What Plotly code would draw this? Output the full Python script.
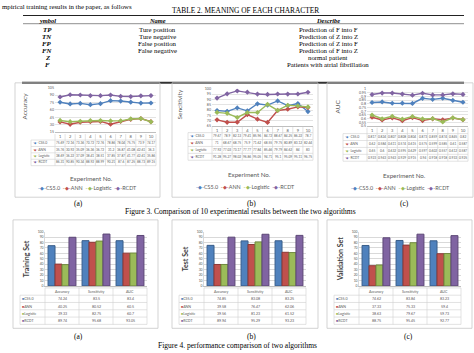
import plotly.graph_objects as go

# ---------------- data ----------------
experiments = list(range(1, 11))
models = ["CS5.0", "ANN", "Logistic", "RCDT"]

acc_cs50 = [75.69, 72.16, 73.36, 70.72, 72.76, 78.86, 78.04, 75.75, 73.9, 74.17]
acc_ann = [35.76, 30.92, 35.09, 36.36, 36.72, 31.2, 36.87, 41.08, 42.61, 36.3]
acc_log = [38.69, 36.22, 37.09, 38.41, 38.51, 37.85, 37.87, 41.77, 42.61, 35.86]
acc_rcdt = [86.31, 90.85, 90.34, 88.92, 88.99, 90.21, 87.6, 87.25, 88.73, 89.15]

sen_cs50 = [79.67, 78.9, 82.13, 79.41, 85.96, 84.72, 88.67, 84.25, 86.22, 78.7]
sen_ann = [71, 68.67, 68.75, 75.9, 71.62, 68.55, 79.75, 80.89, 83.12, 82.44]
sen_log = [77.92, 77.03, 73.17, 77.77, 77.84, 85.46, 79.79, 84.62, 84, 83]
sen_rcdt = [91.28, 95.27, 98.02, 96.86, 95.05, 94.71, 95.1, 95.09, 95.11, 96.75]

auc_cs50 = [0.817, 0.824, 0.807, 0.808, 0.804, 0.873, 0.859, 0.874, 0.845, 0.82]
auc_ann = [0.62, 0.584, 0.611, 0.574, 0.615, 0.575, 0.599, 0.585, 0.61, 0.587]
auc_log = [0.65, 0.6, 0.632, 0.595, 0.629, 0.597, 0.602, 0.557, 0.612, 0.587]
auc_rcdt = [0.923, 0.943, 0.943, 0.929, 0.915, 0.94, 0.918, 0.918, 0.933, 0.925]

metrics = ["Accuracy", "Sensitivity", "AUC"]
train_cs50 = [74.24, 83.50, 83.4]
train_ann = [40.25, 80.52, 60.5]
train_log = [39.33, 82.75, 60.7]
train_rcdt = [89.74, 95.68, 93.05]
test_cs50 = [74.85, 83.08, 83.25]
test_ann = [39.58, 76.47, 62.06]
test_log = [39.56, 81.23, 61.52]
test_rcdt = [89.94, 95.29, 93.23]
valid_cs50 = [74.62, 83.84, 83.23]
valid_ann = [37.33, 75.33, 59.4]
valid_log = [38.63, 79.67, 59.73]
valid_rcdt = [88.75, 95.45, 92.77]

t2_symbols = ["TP", "TN", "FP", "FN", "Z", "F"]
t2_names = ["Ture position", "Ture negative", "False position", "False negative", "", ""]
t2_desc = ["Prediction of F into F", "Prediction of Z into Z", "Prediction of Z into F",
           "Prediction of F into Z", "normal patient", "Patients with atrial fibrillation"]

# ---------------- helpers ----------------
W, H = 474, 353
def fx(x): return x / W
def fy(y): return 1 - y / H

COL = dict(zip(models, ["#4F81BD", "#C0504D", "#9BBB59", "#8064A2"]))
EDGE = dict(zip(models, ["#385D8A", "#8C3836", "#71893F", "#5C4776"]))
SERIF = "Liberation Serif"
SANS = "Lato"
GRAY = "#595959"

annotations, shapes = [], []

def text(x, y, s, size=6, color="#000", font=SERIF, xanchor="center", angle=0, xref="paper"):
    annotations.append(dict(x=fx(x) if xref == "paper" else x, y=fy(y), xref=xref, yref="paper",
                            text=s, showarrow=False, textangle=angle, borderpad=0,
                            font=dict(family=font, size=size, color=color),
                            xanchor=xanchor, yanchor="middle"))

def hline(x0, x1, y, color="#d0d0d0", width=0.6):
    shapes.append(dict(type="line", xref="paper", yref="paper", x0=fx(x0), x1=fx(x1),
                       y0=fy(y), y1=fy(y), line=dict(color=color, width=width)))

def vline(x, y0, y1, color="#d0d0d0", width=0.6, xref="paper"):
    shapes.append(dict(type="line", xref=xref, yref="paper", x0=fx(x) if xref == "paper" else x,
                       x1=fx(x) if xref == "paper" else x, y0=fy(y0), y1=fy(y1),
                       line=dict(color=color, width=width)))

def rect(x0, y0, x1, y1, color="#c8c8c8", width=0.8):
    shapes.append(dict(type="rect", xref="paper", yref="paper", x0=fx(x0), x1=fx(x1),
                       y0=fy(y1), y1=fy(y0), line=dict(color=color, width=width)))

fig = go.Figure()
layout = dict(width=W, height=H, margin=dict(l=0, r=0, t=0, b=0), paper_bgcolor="white",
              plot_bgcolor="rgba(0,0,0,0)", showlegend=False, barmode="group",
              bargap=0.18, bargroupgap=0.0)

def axnames(n):
    return ("xaxis" if n == 1 else f"xaxis{n}", "yaxis" if n == 1 else f"yaxis{n}",
            "x" if n == 1 else f"x{n}", "y" if n == 1 else f"y{n}")

# ---------------- top text + table 2 ----------------
text(1, 3.2, "mpirical training results in the paper, as follows", size=6.8, xanchor="left")
text(245, 7.2, "TABLE 2. MEANING OF EACH CHARACTER", size=7.4)
hline(23, 464, 12.7, color="#222", width=1.2)
hline(23, 464, 21, color="#444", width=0.6)
text(47, 17.3, "<b><i>ymbol</i></b>", size=6.4)
text(157, 17.3, "<b><i>Name</i></b>", size=6.4)
text(328, 17.3, "<b><i>Describe</i></b>", size=6.4)
for i, (s, nm, d) in enumerate(zip(t2_symbols, t2_names, t2_desc)):
    yy = 27.3 + i * 7.07
    text(47, yy, f"<b><i>{s}</i></b>", size=6.8)
    if nm:
        text(157, yy, nm, size=6.8)
    text(328, yy, d, size=6.8)
hline(22, 464, 81, color="#333", width=2)

# ---------------- Figure 3: line charts ----------------
line_panels = [
    dict(box=(15, 160), ylab="Accuracy", ylx=25, yly=105,
         series=[acc_cs50, acc_ann, acc_log, acc_rcdt], yr=[15, 105], dt=15,
         ytop=86, ybot=131, ttop=139, rh=6.5, yexp=178, yleg=188, lab="(a)", labx=78),
    dict(box=(172, 318), ylab="Sencitivity", ylx=180, yly=103,
         series=[sen_cs50, sen_ann, sen_log, sen_rcdt], yr=[65, 100], dt=5,
         ytop=87, ybot=125, ttop=131.5, rh=7, yexp=174, yleg=187, lab="(b)", labx=252),
    dict(box=(327, 473), ylab="AUC", ylx=338, yly=105,
         series=[auc_cs50, auc_ann, auc_log, auc_rcdt], yr=[0.5, 1.0], dt=0.05,
         ytop=87, ybot=125, ttop=132.5, rh=7, yexp=175, yleg=188, lab="(c)", labx=404),
]

n = 0
for p in line_panels:
    n += 1
    xa, ya, xr, yr_ = axnames(n)
    bx0, bx1 = p["box"]
    rect(bx0, 81, bx1, 197)
    px0, px1 = bx0 + 40, bx0 + 141
    layout[xa] = dict(domain=[fx(px0), fx(px1)], range=[0.5, 10.5], anchor=yr_, tickvals=experiments,
                      tickfont=dict(size=4, color=GRAY, family=SANS), showgrid=False, showline=True,
                      linecolor="#bfbfbf", linewidth=0.7, ticks="", zeroline=False, fixedrange=True)
    layout[ya] = dict(domain=[fy(p["ybot"]), fy(p["ytop"])], range=p["yr"], dtick=p["dt"], tick0=p["yr"][0],
                      anchor=xr, tickfont=dict(size=3.6, color=GRAY, family=SANS), showgrid=True,
                      gridcolor="#e4e4e4", gridwidth=0.5, zeroline=False, showline=False, ticks="",
                      fixedrange=True)
    for m, vals in zip(models, p["series"]):
        fig.add_trace(go.Scatter(x=experiments, y=vals, mode="lines+markers", xaxis=xr, yaxis=yr_,
                                 line=dict(color=COL[m], width=1.4),
                                 marker=dict(symbol="diamond", size=4, color=COL[m])))
    # data table
    t0, rh = p["ttop"], p["rh"]
    step = (px1 - px0) / 10
    for k in range(5):
        hline(bx0 + 16, px1, t0 + k * rh)
    vline(bx0 + 16, t0, t0 + 4 * rh)
    for k in range(11):
        vline(px0 + k * step, t0 - 6, t0 + 4 * rh)
    for r, (m, vals) in enumerate(zip(models, p["series"])):
        yy = t0 + (r + 0.5) * rh
        text(bx0 + 17, yy, f"<span style='color:{COL[m]}'>-◆-</span> {m}", size=3.4,
             color=GRAY, font=SANS, xanchor="left")
        for e, v in zip(experiments, vals):
            text(e, yy, f"{v:g}", size=3.2, color=GRAY, font=SANS, xref=xr)
    text(p["ylx"], p["yly"], p["ylab"], size=6.5, color=GRAY, font=SANS, angle=-90)
    text((bx0 + bx1) / 2 + 4, p["yexp"], "Experiment No.", size=6.2, color=GRAY, font=SANS)
    leg = "  ".join(f"<span style='color:{COL[m]}'>-◆-</span>{m}" for m in models)
    text((bx0 + bx1) / 2, p["yleg"], leg, size=5.4, color=GRAY, font=SANS)
    text(p["labx"], 203, p["lab"], size=7.5)

text(240, 212, "Figure 3. Comparison of 10 experimental results between the two algorithms", size=7.5)

# ---------------- Figure 4: bar charts ----------------
bar_panels = [
    dict(box=(13, 158), ylab="Training Set",
         series=[train_cs50, train_ann, train_log, train_rcdt], lab="(a)", labx=78),
    dict(box=(172, 318), ylab="Test Set",
         series=[test_cs50, test_ann, test_log, test_rcdt], lab="(b)", labx=252),
    dict(box=(327, 472), ylab="Validation Set",
         series=[valid_cs50, valid_ann, valid_log, valid_rcdt], lab="(c)", labx=408),
]
for p in bar_panels:
    n += 1
    xa, ya, xr, yr_ = axnames(n)
    bx0, bx1 = p["box"]
    rect(bx0, 220, bx1, 330)
    px0, px1 = bx0 + 32, bx0 + 134
    layout[xa] = dict(domain=[fx(px0), fx(px1)], range=[-0.5, 2.5], anchor=yr_, showticklabels=False,
                      showgrid=False, showline=True, linecolor="#bfbfbf", linewidth=0.7, ticks="",
                      zeroline=False, fixedrange=True, type="category")
    layout[ya] = dict(domain=[fy(287), fy(232)], range=[0, 100], dtick=10, anchor=xr,
                      tickfont=dict(size=3.4, color=GRAY, family=SANS), showgrid=True,
                      gridcolor="#d9d9d9", gridwidth=0.5, zeroline=False, showline=True,
                      linecolor="#d9d9d9", linewidth=0.5, ticks="", fixedrange=True)
    for m, vals in zip(models, p["series"]):
        fig.add_trace(go.Bar(x=metrics, y=vals, xaxis=xr, yaxis=yr_,
                             marker=dict(color=COL[m], line=dict(color=EDGE[m], width=1))))
    # data table
    t0, rh = 289, 7.4
    step = (px1 - px0) / 3
    hline(px0, px1, t0)
    for k in range(1, 6):
        hline(bx0 + 7, px1, t0 + k * rh)
    vline(bx0 + 7, t0 + rh, t0 + 5 * rh)
    for k in range(4):
        vline(px0 + k * step, t0, t0 + 5 * rh)
    for mt in metrics:
        text(mt, t0 + 0.5 * rh, mt, size=3.6, color=GRAY, font=SANS, xref=xr)
    for r, (m, vals) in enumerate(zip(models, p["series"])):
        yy = t0 + (r + 1.5) * rh
        text(bx0 + 8, yy, f"<span style='color:{COL[m]}'>■</span>{m}", size=3.6,
             color=GRAY, font=SANS, xanchor="left")
        for mt, v in zip(metrics, vals):
            text(mt, yy, f"{v:g}", size=3.6, color=GRAY, font=SANS, xref=xr)
    text(bx0 + 13, 260, f"<b>{p['ylab']}</b>", size=7, color="#404040", font=SANS, angle=-90)
    text(p["labx"], 338, p["lab"], size=7.5)

text(237, 347, "Figure 4. performance comparison of two algorithms", size=7.5)

layout["annotations"] = annotations
layout["shapes"] = shapes
fig.update_layout(**layout)
fig.write_html("out.html")
